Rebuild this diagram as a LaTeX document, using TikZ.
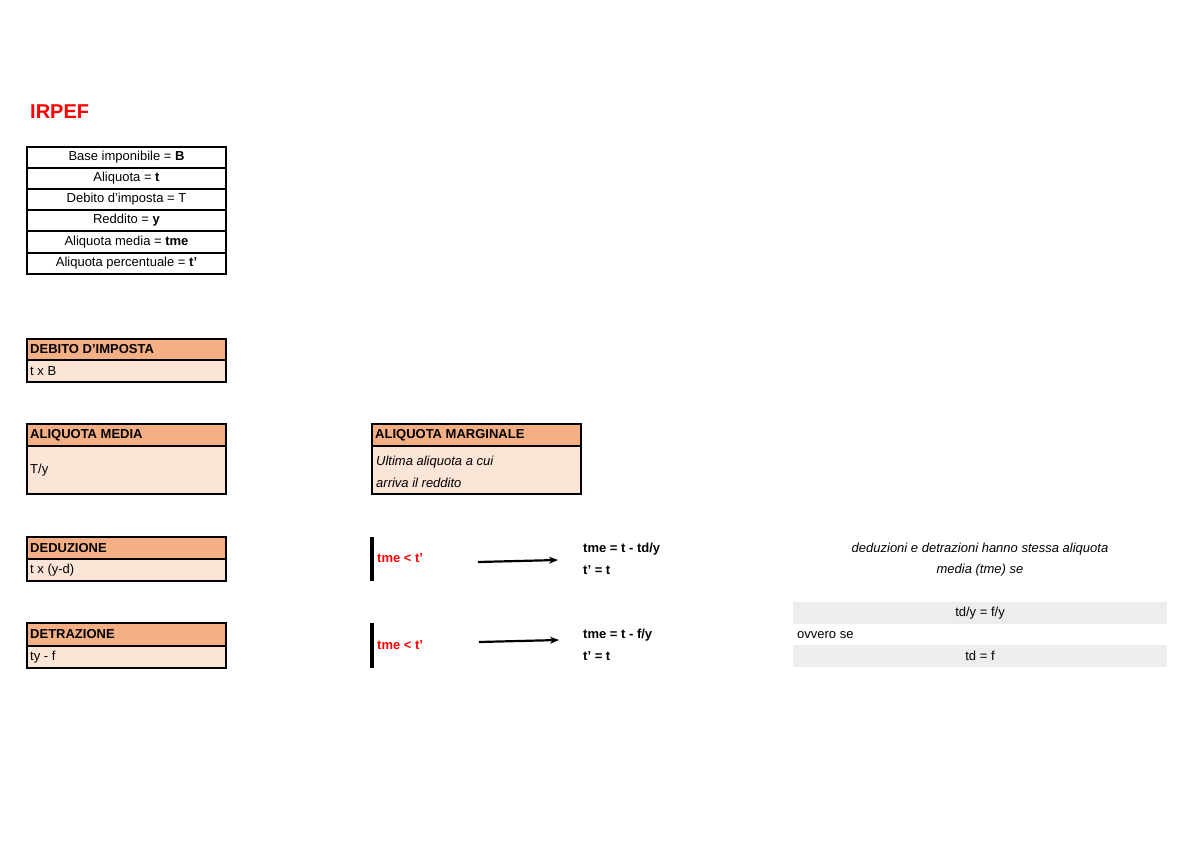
\documentclass[tikz,border=0pt]{standalone}
\usepackage{fontspec}
\setmainfont{Liberation Sans}
\usetikzlibrary{arrows.meta}
\definecolor{hdr}{HTML}{F4B084}
\definecolor{bdy}{HTML}{FCE4D6}
\definecolor{band}{HTML}{EDEDED}
\definecolor{myred}{HTML}{FF0000}
\tikzset{
 cell/.style={draw,line width=1.6pt},
 lbl/.style={anchor=west,inner sep=0pt,font=\fontsize{13}{15}\selectfont},
 ctr/.style={anchor=center,inner sep=0pt,font=\fontsize{13}{15}\selectfont},
 arr/.style={line width=2.2pt,-{Stealth[length=9pt,width=7pt]}}
}
\newcommand{\mybox}[7]{%
 \fill[hdr] (#1,#3) rectangle (#2,#4);
 \fill[bdy] (#1,#4) rectangle (#2,#5);
 \draw[cell] (#1,#3) rectangle (#2,#5);
 \draw[cell] (#1,#4) -- (#2,#4);
 \node[lbl,font=\fontsize{13}{15}\selectfont\bfseries] (#7) at (#1+3,{(#3+#4)/2}) {#6};
}
\begin{document}
\begin{tikzpicture}[x=1pt,y=-1pt]
\useasboundingbox (0,0) rectangle (1200,849);
\node[lbl,text=myred,font=\fontsize{20}{22}\selectfont\bfseries] (irpef) at (30,112) {IRPEF};
\foreach \a/\b/\t [count=\i] in {147/168/{Base imponibile = \textbf{B}},168/189/{Aliquota = \textbf{t}},189/210/{Debito d'imposta = T},210/231/{Reddito = \textbf{y}},231/253/{Aliquota media = \textbf{tme}},253/274/{Aliquota percentuale = \textbf{t'}}}{
 \draw[cell] (27,\a) rectangle (226,\b);
 \node[ctr] (r\i) at (126.5,{(\a+\b)/2}) {\t};
}
\mybox{27}{226}{339}{360}{382}{DEBITO D'IMPOSTA}{h1}
\node[lbl] (b1) at (30,371) {t x B};
\mybox{27}{226}{424}{446}{494}{ALIQUOTA MEDIA}{h2}
\node[lbl] (b2) at (30,470) {T/y};
\mybox{372}{581}{424}{446}{494}{ALIQUOTA MARGINALE}{h3}
\node[lbl,font=\fontsize{13}{15}\selectfont\itshape] (b3a) at (376,462) {Ultima aliquota a cui};
\node[lbl,font=\fontsize{13}{15}\selectfont\itshape] (b3b) at (376,483) {arriva il reddito};
\mybox{27}{226}{537}{559}{581}{DEDUZIONE}{h4}
\node[lbl] (b4) at (30,570) {t x (y-d)};
\mybox{27}{226}{623}{646}{668}{DETRAZIONE}{h5}
\node[lbl] (b5) at (30,657) {ty - f};
\draw[line width=4pt] (372,537) -- (372,581);
\draw[line width=4pt] (372,623) -- (372,668);
\node[lbl,text=myred,font=\fontsize{13}{15}\selectfont\bfseries] (c1) at (377,558) {tme < t'};
\node[lbl,text=myred,font=\fontsize{13}{15}\selectfont\bfseries] (c2) at (377,645) {tme < t'};
\coordinate (a1s) at (478,562); \coordinate (a1e) at (558,560);
\coordinate (a2s) at (479,642); \coordinate (a2e) at (559,640);
\draw[arr] (a1s) -- (a1e);
\draw[arr] (a2s) -- (a2e);
\node[lbl,font=\fontsize{13}{15}\selectfont\bfseries] (d1) at (583,549) {tme = t - td/y};
\node[lbl,font=\fontsize{13}{15}\selectfont\bfseries] (d2) at (583,570) {t' = t};
\node[lbl,font=\fontsize{13}{15}\selectfont\bfseries] (d3) at (583,635) {tme = t - f/y};
\node[lbl,font=\fontsize{13}{15}\selectfont\bfseries] (d4) at (583,656) {t' = t};
\node[ctr,font=\fontsize{13}{15}\selectfont\itshape] (e1) at (980,549) {deduzioni e detrazioni hanno stessa aliquota};
\node[ctr,font=\fontsize{13}{15}\selectfont\itshape] (e2) at (980,570) {media (tme) se};
\fill[band] (793,602) rectangle (1167,624);
\fill[band] (793,645) rectangle (1167,667);
\node[ctr] (f1) at (980,613) {td/y = f/y};
\node[lbl] (f2) at (797,635) {ovvero se};
\node[ctr] (f3) at (980,656) {td = f};
\end{tikzpicture}
\end{document}
